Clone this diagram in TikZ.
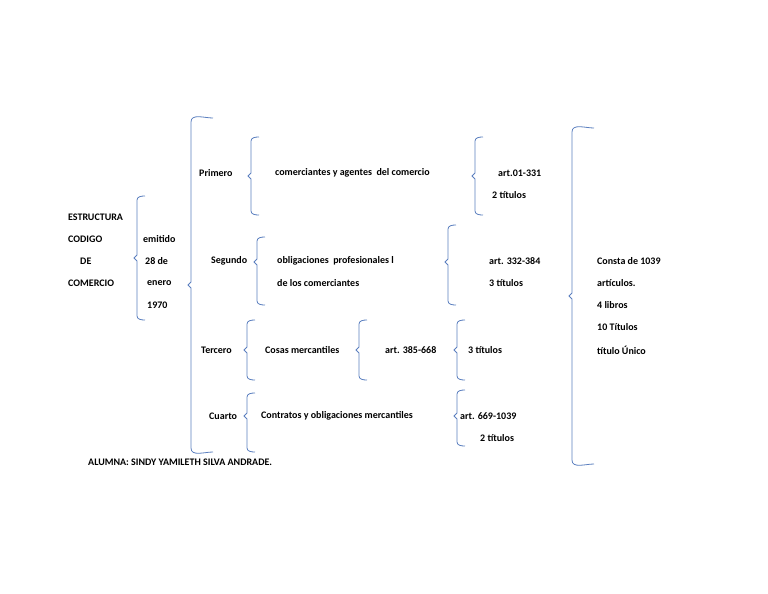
\documentclass[tikz,border=0pt]{standalone}
\usepackage{fontspec}
\setmainfont{Carlito}
\definecolor{br}{HTML}{5B7FBF}
\tikzset{t/.style={anchor=west,inner sep=0pt,font=\bfseries\fontsize{10}{12}\selectfont},
bk/.style={draw=br,line width=0.8pt}}
% \brc{x}{top}{bottom}{mid}{w}
\newcommand{\brc}[5]{\draw[bk] (#1+#5,#2) to[out=180,in=90] (#1,#2+4) -- (#1,#4-3) -- (#1-3,#4) -- (#1,#4+3) -- (#1,#3-4) to[out=-90,in=180] (#1+#5,#3);}
\begin{document}
\begin{tikzpicture}[x=1pt,y=-1pt]
\useasboundingbox (0,0) rectangle (768,594);
\brc{137}{196}{320}{258}{8}
\brc{191}{118}{452}{285}{22}
\brc{572}{128}{464}{296}{22}
\brc{251}{137}{215}{176}{8}
\brc{475}{137}{215}{176}{8}
\brc{257}{237}{305}{262}{8}
\brc{448}{225}{305}{262}{8}
\brc{247}{320}{380}{350}{8}
\brc{359}{320}{380}{350}{8}
\brc{457}{320}{380}{350}{8}
\brc{247}{393}{452}{416}{8}
\brc{457}{390}{446}{416}{8}
\node[t] (a1) at (68,217) {ESTRUCTURA};
\node[t] (a2) at (68,239) {CODIGO};
\node[t] (a3) at (80,261) {DE};
\node[t] (a4) at (68,283) {COMERCIO};
\node[t] (e1) at (143,239) {emitido};
\node[t] (e2) at (145,261) {28 de};
\node[t] (e3) at (147,283) {enero};
\node[t] (e4) at (147,305) {1970};
\node[t] (p1) at (199,173) {Primero};
\node[t] (p2) at (275,173) {comerciantes y agentes\ \ del comercio};
\node[t] (p3) at (498,173) {art.01-331};
\node[t] (p4) at (492,195) {2 títulos};
\node[t] (s1) at (211,261) {Segundo};
\node[t] (s2) at (277,261) {obligaciones\ \ profesionales l};
\node[t] (s3) at (277,283) {de los comerciantes};
\node[t] (s4) at (489,261) {art. 332-384};
\node[t] (s5) at (489,283) {3 títulos};
\node[t] (c1) at (597,261) {Consta de 1039};
\node[t] (c2) at (597,283) {artículos.};
\node[t] (c3) at (597,305) {4 libros};
\node[t] (c4) at (597,327) {10 Títulos};
\node[t] (c5) at (597,350) {título Único};
\node[t] (t1) at (201,350) {Tercero};
\node[t] (t2) at (265,350) {Cosas mercantiles};
\node[t] (t3) at (385,350) {art. 385-668};
\node[t] (t4) at (468,350) {3 títulos};
\node[t] (q1) at (209,416) {Cuarto};
\node[t] (q2) at (261,416) {Contratos y obligaciones mercantiles};
\node[t] (q3) at (460,416) {art. 669-1039};
\node[t] (q4) at (480,438) {2 títulos};
\node[t] (al) at (88,462) {ALUMNA: SINDY YAMILETH SILVA ANDRADE.};
\end{tikzpicture}
\end{document}
